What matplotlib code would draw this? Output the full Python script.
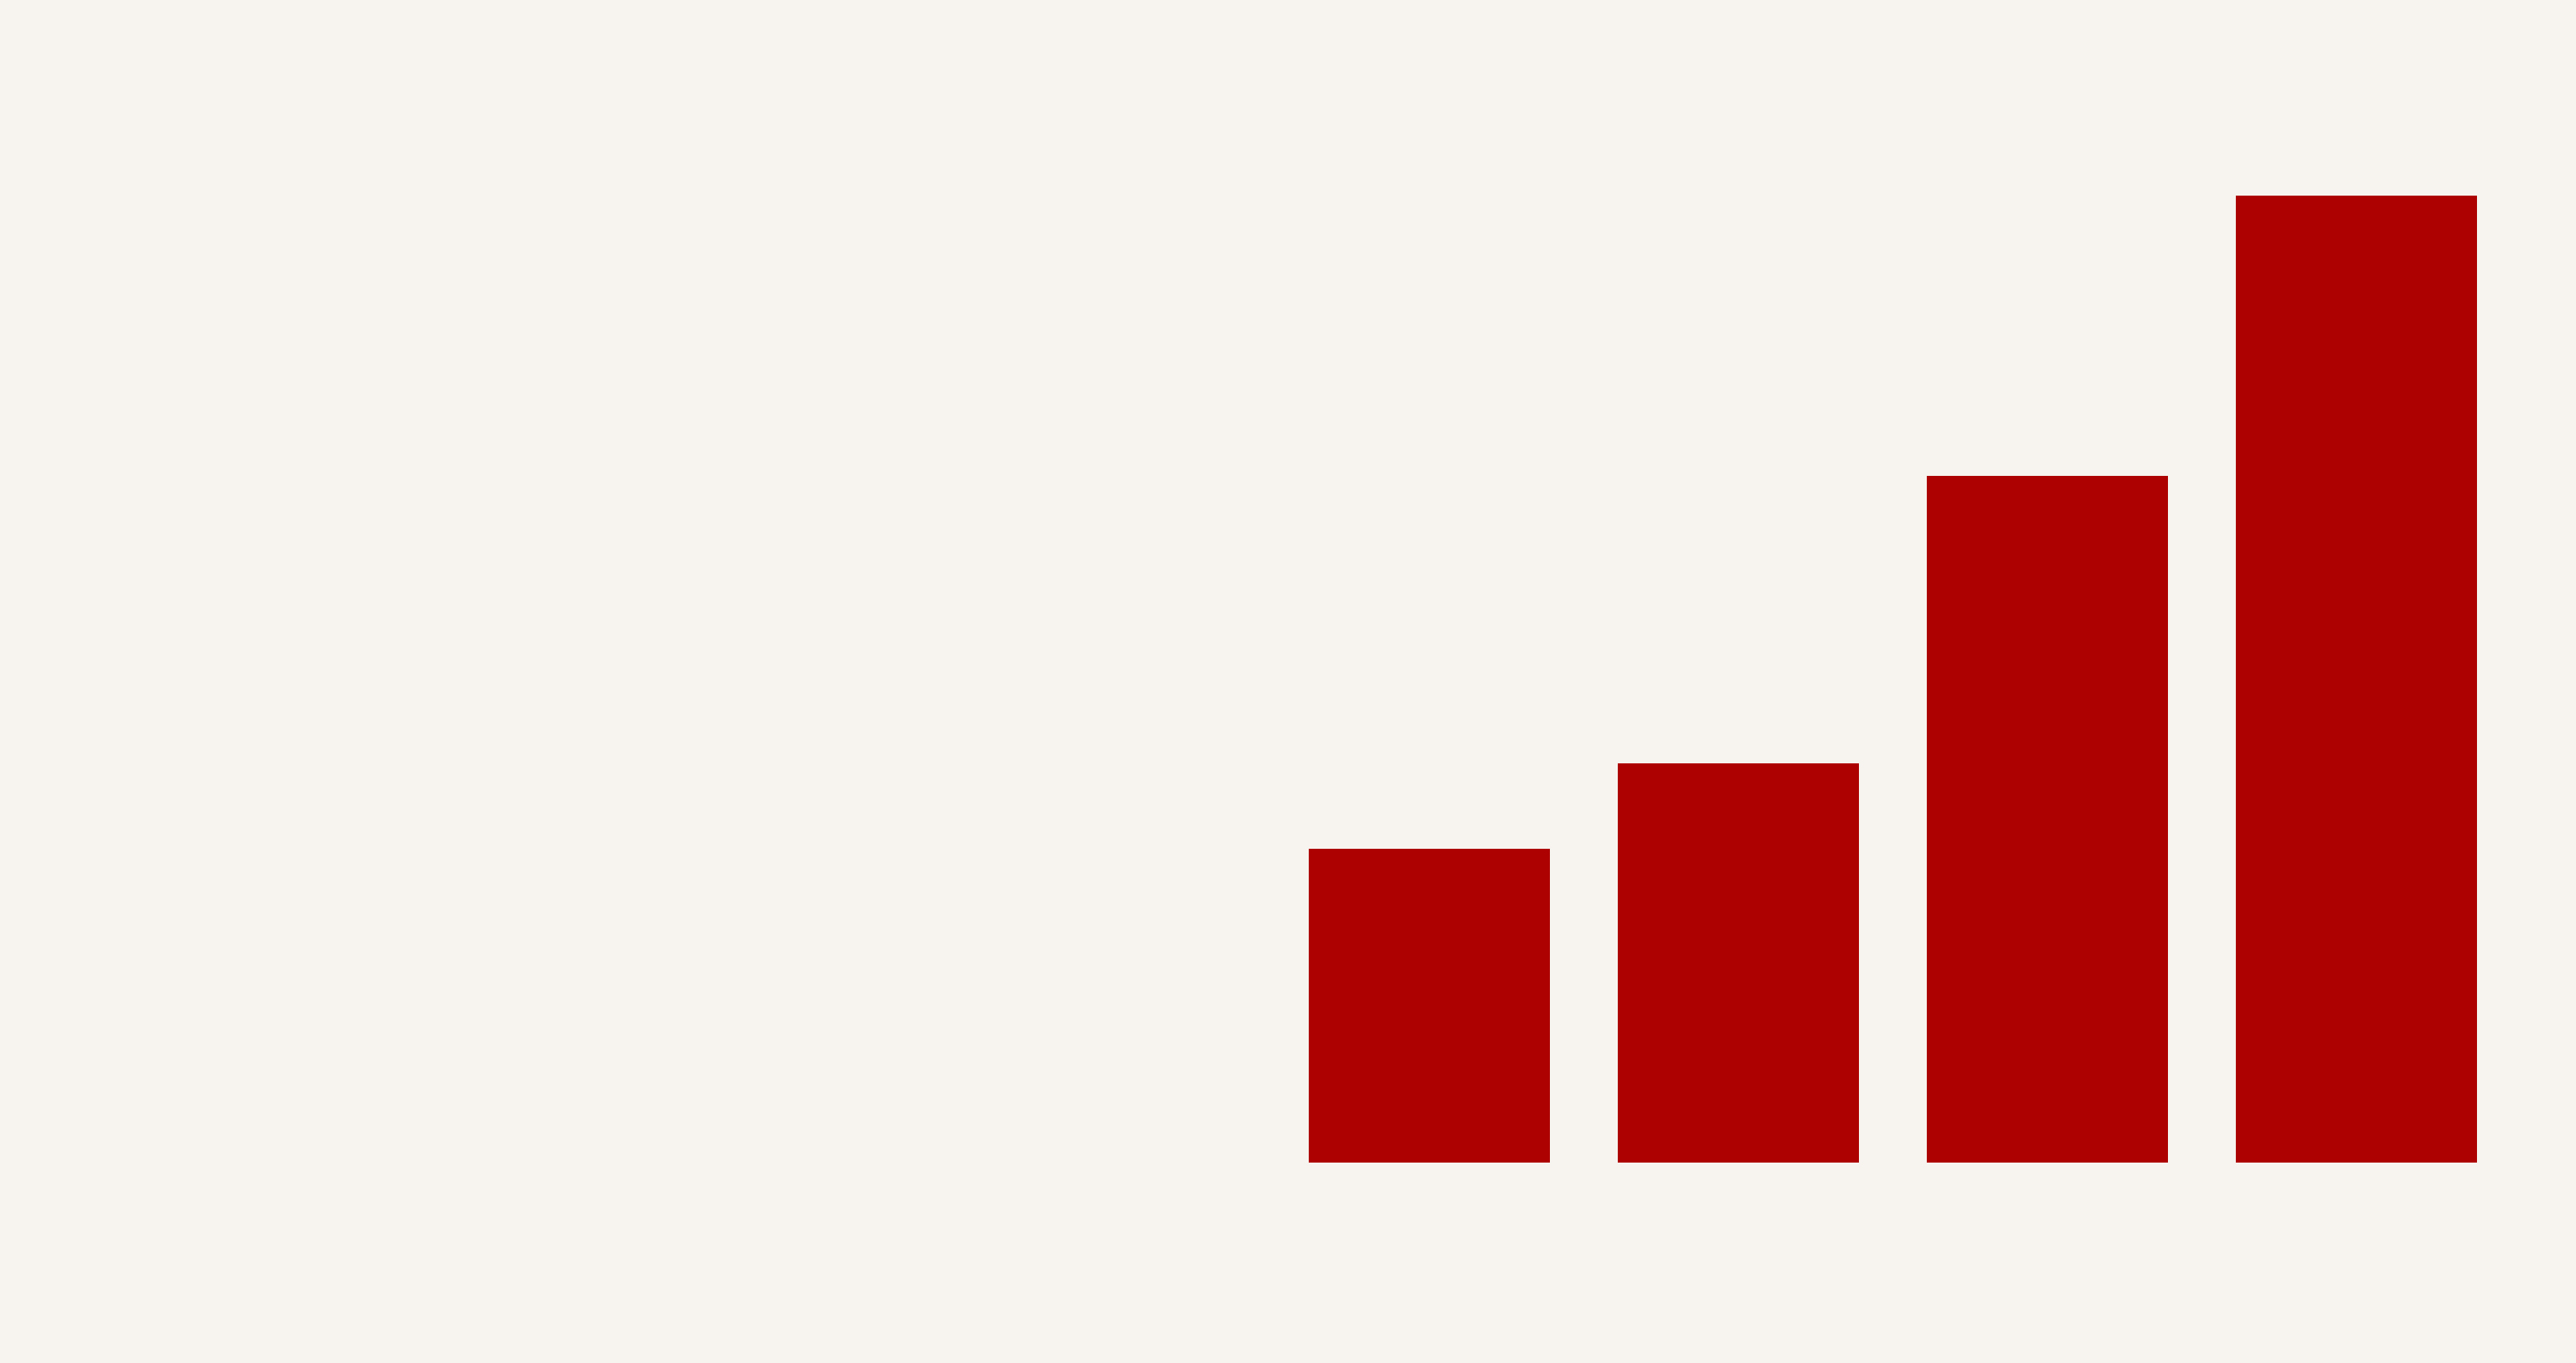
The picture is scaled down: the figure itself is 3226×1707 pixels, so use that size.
import numpy as np
import matplotlib.pyplot as plt

# Données (hauteurs relatives, la plus grande = 100)
categories = ["A", "B", "C", "D"]
valeurs = [32.4, 41.3, 71.0, 100.0]

couleur_fond = "#f7f4ef"
couleur_barre = "#ad0000"

fig = plt.figure(figsize=(16.13, 8.535), dpi=200)
fig.patch.set_facecolor(couleur_fond)

# Axe placé à droite, la moitié gauche reste vide
ax = fig.add_axes([0.4949, 0.1473, 0.4798, 0.7093])
ax.set_facecolor(couleur_fond)

x = np.arange(len(categories))
ax.bar(x, valeurs, width=0.78, color=couleur_barre)

ax.set_xlim(-0.5, len(categories) - 0.5)
ax.set_ylim(0, max(valeurs))
ax.axis("off")

fig.savefig("out.png", dpi=200, facecolor=couleur_fond)
